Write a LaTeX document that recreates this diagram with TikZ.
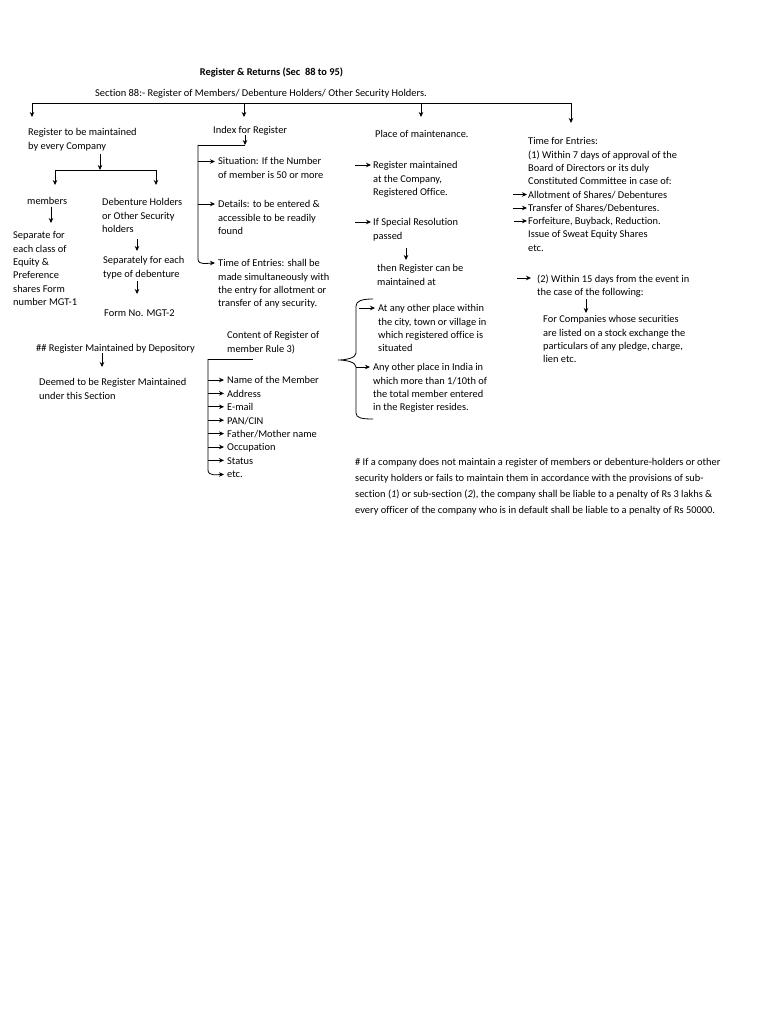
\documentclass[tikz,border=0pt]{standalone}
\usepackage{fontspec}
\setmainfont{Carlito}[Ligatures=NoCommon]
\usetikzlibrary{arrows.meta}
\begin{document}
\begin{tikzpicture}[x=1pt,y=-1pt,
  txt/.style={anchor=north west,inner sep=0pt,align=left,yshift=-2.5pt,font=\fontsize{10.4}{13.3}\selectfont,execute at begin node=\strut},
  ln/.style={line width=0.8pt},
  arr/.style={line width=0.8pt,-{Stealth[length=5pt,width=4.5pt]}}]
\fill[white] (0,0) rectangle (768,1024);
\useasboundingbox (0,0) rectangle (768,1024);

% titles
\node[inner sep=0pt,yshift=-2pt,font=\bfseries\fontsize{10.4}{12}\selectfont] (title) at (271.5,71) {Register \& Returns (Sec\ \ 88 to 95)};
\node[txt] (sub) at (95,84) {Section 88:- Register of Members/ Debenture Holders/ Other Security Holders.};

% top bar
\coordinate (b1) at (32,103.5);
\coordinate (b2) at (244,103.5);
\coordinate (b3) at (421,103.5);
\coordinate (b4) at (571,103.5);
\draw[ln] (b1) -- (b4);

% first level
\node[txt] (reg) at (28,126) {Register to be maintained\\by every Company};
\node[txt] (idx) at (213,121) {Index for Register};
\node[txt] (place) at (375,125) {Place of maintenance.};
\node[txt] (time) at (528,135) {Time for Entries:\\(1) Within 7 days of approval of the\\Board of Directors or its duly\\Constituted Committee in case of:\\Allotment of Shares/ Debentures\\Transfer of Shares/Debentures.\\Forfeiture, Buyback, Reduction.\\Issue of Sweat Equity Shares\\etc.};

\draw[arr] (b1) -- (32,117);
\draw[arr] (b2) -- (244,117);
\draw[arr] (b3) -- (421,117);
\draw[arr] (b4) -- (571,123);

% register branch
\coordinate (s0) at (100,170);
\coordinate (s1) at (55,170);
\coordinate (s2) at (156,170);
\draw[arr] (100,154) -- (s0);
\draw[ln] (s1) -- (s2);
\node[txt] (members) at (27,192) {members};
\node[txt] (sep) at (13,229) {Separate for\\each class of\\Equity \&\\Preference\\shares Form\\number MGT-1};
\node[txt] (deb) at (102,196) {Debenture Holders\\or Other Security\\holders};
\node[txt] (sepeach) at (103,254) {Separately for each\\type of debenture};
\node[txt] (form2) at (104,304) {Form No. MGT-2};
\draw[arr] (s1) -- (55,185);
\draw[arr] (s2) -- (156,185);
\draw[arr] (51,207) -- (51,223);
\draw[arr] (137,239) -- (137,251);
\draw[arr] (137,281) -- (137,294);

% depository
\node[txt] (dep) at (36,339) {\#\# Register Maintained by Depository};
\node[txt] (deemed) at (39,376) {Deemed to be Register Maintained\\under this Section};
\draw[arr] (102,353) -- (102,367);

% index branch
\node[txt] (sit) at (218,155) {Situation: If the Number\\of member is 50 or more};
\node[txt] (det) at (218,198) {Details: to be entered \&\\accessible to be readily\\found};
\node[txt] (toe) at (218,257) {Time of Entries: shall be\\made simultaneously with\\the entry for allotment or\\transfer of any security.};
\coordinate (i0) at (245,145);
\coordinate (i1) at (198,145);
\draw[arr] (245,135) -- (i0);
\draw[ln] (i0) -- (i1);
\draw[arr] (i1) -- (198,259) to[out=-90,in=180] (215,263);
\draw[arr] (198,161.5) -- (215,161.5);
\draw[arr] (198,204) -- (215,204);

% content of register
\node[txt] (content) at (227,329) {Content of Register of\\member Rule 3)};
\node[txt,font=\fontsize{10.4}{13.4}\selectfont] (items) at (227,374) {Name of the Member\\Address\\E-mail\\PAN/CIN\\Father/Mother name\\Occupation\\Status\\etc.};
\coordinate (c0) at (208,359);
\draw[ln] (c0) -- (253,359);
\draw[arr] (c0) -- (208,470) to[out=-90,in=180] (224,474.5);
\foreach \yy in {380,393.4,406.8,420.2,433.6,447,460.4}
  \draw[arr] (208,\yy) -- (224,\yy);

% place branch
\node[txt] (rm) at (373,159) {Register maintained\\at the Company,\\Registered Office.};
\node[txt] (sr) at (373,216) {If Special Resolution\\passed};
\node[txt] (then) at (377,262) {then Register can be\\maintained at};
\node[txt] (any1) at (378,302) {At any other place within\\the city, town or village in\\which registered office is\\situated};
\node[txt] (any2) at (373,361) {Any other place in India in\\which more than 1/10th of\\the total member entered\\in the Register resides.};
\draw[arr] (355,165) -- (371,165);
\draw[arr] (355,222) -- (371,222);
\draw[arr] (406,248) -- (406,260);
\draw[ln] (373,299) .. controls (362,299) and (356,301) .. (356,306) -- (356,353)
  .. controls (356,358) and (346,360) .. (338,360)
  .. controls (346,360) and (356,362) .. (356,367) -- (356,413)
  .. controls (356,418) and (362,419) .. (373,419);
\draw[arr] (359,308) -- (375,308);
\draw[arr] (356,367) -- (370,367);

% time branch
\draw[arr] (513,194.5) -- (527,194.5);
\draw[arr] (513,208) -- (527,208);
\draw[arr] (514,221) -- (527,221);
\node[txt] (two) at (537,272) {(2) Within 15 days from the event in\\the case of the following:};
\node[txt] (comp) at (543,313) {For Companies whose securities\\are listed on a stock exchange the\\particulars of any pledge, charge,\\lien etc.};
\draw[arr] (517,278) -- (531,278);
\draw[arr] (586,299) -- (586,313);

% footnote
\node[txt,font=\fontsize{10.4}{16}\selectfont] (foot) at (355,455.5) {\# If a company does not maintain a register of members or debenture-holders or other\\security holders or fails to maintain them in accordance with the provisions of sub-\\section (\textit{1}) or sub-section (\textit{2}), the company shall be liable to a penalty of Rs 3 lakhs \&\\every officer of the company who is in default shall be liable to a penalty of Rs 50000.};
\end{tikzpicture}
\end{document}
